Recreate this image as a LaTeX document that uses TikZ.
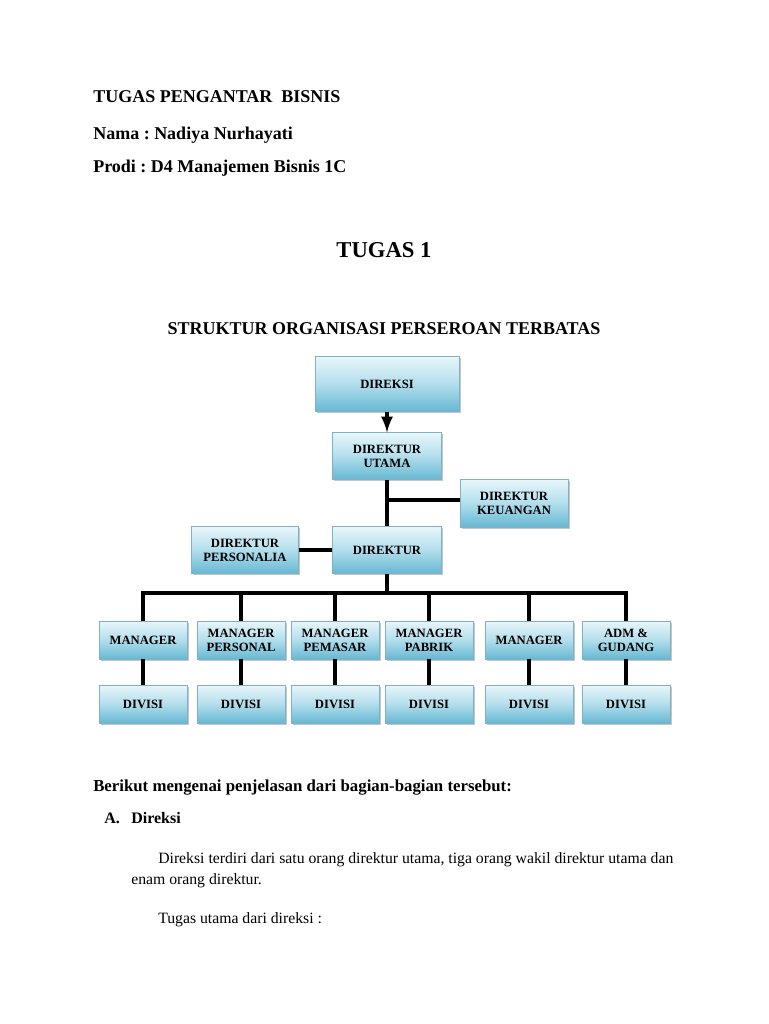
\documentclass[tikz,border=0pt]{standalone}
\usepackage{fontspec}
\setmainfont{Liberation Serif}
\usetikzlibrary{shadows}
\usetikzlibrary{arrows.meta}
\frenchspacing

\definecolor{kotakatas}{HTML}{E8F6FA}
\definecolor{kotaktengah}{HTML}{B2DEEC}
\definecolor{kotakbawah}{HTML}{66B8D3}
\definecolor{kotaktepi}{HTML}{7FB2C4}

\tikzset{
  jabatan/.style={draw=kotaktepi, line width=0.4pt, top color=kotakatas,
    bottom color=kotakbawah, middle color=kotaktengah, align=center, inner sep=0pt,
    font=\bfseries\fontsize{9.5}{10.5}\selectfont,
    drop shadow={shadow xshift=1.2pt, shadow yshift=-1.2pt, opacity=0.45}},
  kecil/.style={jabatan, minimum width=66pt, minimum height=28.5pt},
  garis/.style={line width=3pt},
  judul/.style={anchor=base west, inner sep=0pt, font=\bfseries\fontsize{13.5}{15}\selectfont},
  isi/.style={anchor=base west, inner sep=0pt, font=\fontsize{11.8}{13}\selectfont},
}

\begin{document}
\begin{tikzpicture}[x=0.75pt, y=-0.75pt]
    \fill[white] (0,0) rectangle (768,1024);
    \useasboundingbox (0,0) rectangle (768,1024);

    \node (tugaspb) at (93,103) [judul] {TUGAS PENGANTAR\ \ BISNIS};
    \node (nama) at (93,139) [judul] {Nama : Nadiya Nurhayati};
    \node (prodi) at (93,172) [judul] {Prodi : D4 Manajemen Bisnis 1C};
    \node (tugas1) at (384,257) [anchor=base, font=\bfseries\fontsize{17}{19}\selectfont] {TUGAS 1};
    \node (struktur) at (384,334) [anchor=base, font=\bfseries\fontsize{13.5}{15}\selectfont] {STRUKTUR ORGANISASI PERSEROAN TERBATAS};

    \node (direksi) at (387,384) [jabatan, minimum width=108pt, minimum height=41pt] {DIREKSI};
    \node (dirut) at (387,456) [jabatan, minimum width=82pt, minimum height=35pt] {DIREKTUR\\UTAMA};
    \node (keuangan) at (514,503) [jabatan, minimum width=81pt, minimum height=36pt] {DIREKTUR\\KEUANGAN};
    \node (direktur) at (387,550) [jabatan, minimum width=82pt, minimum height=35pt] {DIREKTUR};
    \node (personalia) at (245,550) [jabatan, minimum width=80pt, minimum height=35pt] {DIREKTUR\\PERSONALIA};

    \node (man1) at (143,640) [kecil] {MANAGER};
    \node (manpers) at (241,640) [kecil] {MANAGER\\PERSONAL};
    \node (manpem) at (335,640) [kecil] {MANAGER\\PEMASAR};
    \node (manpab) at (429,640) [kecil] {MANAGER\\PABRIK};
    \node (man2) at (529,640) [kecil] {MANAGER};
    \node (adm) at (626,640) [kecil] {ADM \&\\GUDANG};

    \node (div1) at (143,704) [kecil] {DIVISI};
    \node (div2) at (241,704) [kecil] {DIVISI};
    \node (div3) at (335,704) [kecil] {DIVISI};
    \node (div4) at (429,704) [kecil] {DIVISI};
    \node (div5) at (529,704) [kecil] {DIVISI};
    \node (div6) at (626,704) [kecil] {DIVISI};

    \coordinate (cabang) at (387,500);
    \coordinate (bus) at (387,593);

    \draw[garis,-latex] (direksi) -- (dirut);
    \draw[garis] (dirut) -- (direktur);
    \draw[garis] (cabang) -- (cabang -| keuangan.west);
    \draw[garis] (personalia) -- (direktur);
    \draw[garis] (direktur) -- (bus);
    \draw[garis] (man1) |- (bus) -| (adm);
    \draw[garis] (manpers |- bus) -- (manpers);
    \draw[garis] (manpem |- bus) -- (manpem);
    \draw[garis] (manpab |- bus) -- (manpab);
    \draw[garis] (man2 |- bus) -- (man2);

    \draw[garis] (man1) -- (div1);
    \draw[garis] (manpers) -- (div2);
    \draw[garis] (manpem) -- (div3);
    \draw[garis] (manpab) -- (div4);
    \draw[garis] (man2) -- (div5);
    \draw[garis] (adm) -- (div6);

    \node (berikut) at (93,791) [judul, font=\bfseries\fontsize{12.6}{14}\selectfont] {Berikut mengenai penjelasan dari bagian-bagian tersebut:};
    \node (hurufa) at (104,823) [judul, font=\bfseries\fontsize{12}{14}\selectfont] {A.};
    \node (direksijudul) at (131,823) [judul, font=\bfseries\fontsize{12}{14}\selectfont] {Direksi};
    \node (paragraf1) at (158,863) [isi] {Direksi terdiri dari satu orang direktur utama, tiga orang wakil direktur utama dan};
    \node (paragraf2) at (131,884) [isi] {enam orang direktur.};
    \node (tugasutama) at (158,923) [isi] {Tugas utama dari direksi :};
\end{tikzpicture}
\end{document}
